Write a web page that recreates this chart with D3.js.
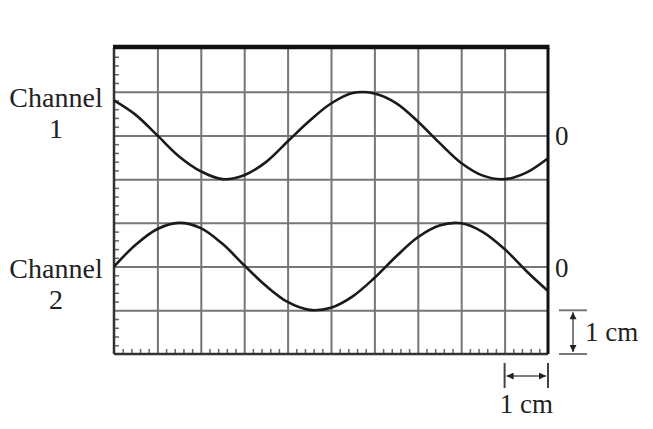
<!DOCTYPE html>
<html>
<head>
<meta charset="utf-8">
<script src="https://d3js.org/d3.v7.min.js"></script>
<style>
  body { margin: 0; background: #fff; }
  text { font-family: "Liberation Serif", "DejaVu Serif", serif; fill: #222; }
</style>
</head>
<body>
<div id="scope"></div>
<script>
// screen size in cm (divisions)
var xDivs = 10;
var yDivs = 7;

// sample positions along the screen (cm from left edge)
var sampleX = [0, 0.5, 1, 1.5, 2, 2.5, 3, 3.5, 4, 4.5, 5, 5.5, 6, 6.5, 7, 7.5, 8, 8.5, 9, 9.5, 10];

// trace heights in cm, relative to each channel's zero line
var channel1 = [0.80, 0.47, 0.00, -0.48, -0.82, -1.00, -0.91, -0.61, -0.14, 0.33, 0.73, 0.97, 0.96, 0.74, 0.32, -0.17, -0.63, -0.92, -1.00, -0.85, -0.52];
var channel2 = [0.00, 0.50, 0.86, 1.00, 0.88, 0.52, 0.03, -0.44, -0.81, -0.99, -0.94, -0.68, -0.26, 0.23, 0.67, 0.94, 0.99, 0.79, 0.40, -0.10, -0.56];

// zero line of each channel (cm from bottom)
var zeroLevels = [5, 2];
var channelNames = ["Channel", "Channel"];
var channelNums = ["1", "2"];
var scaleLabel = "1 cm";

var svgWidth = 653;
var svgHeight = 429;

// where the "Channel" word sits relative to its zero line (px)
var labelShift = [-28, 11];

var svg = d3.select("#scope")
  .append("svg")
  .attr("width", svgWidth)
  .attr("height", svgHeight);

// scales map cm on the screen to pixels
var xScale = d3.scaleLinear().domain([0, xDivs]).range([114, 548]);
var yScale = d3.scaleLinear().domain([0, yDivs]).range([354, 48]);

var plotW = xScale(xDivs) - xScale(0);
var plotH = yScale(0) - yScale(yDivs);

// grid lines
var gridX = d3.axisBottom(xScale).tickValues(d3.range(1, xDivs)).tickSize(-plotH).tickFormat("");
var gridY = d3.axisLeft(yScale).tickValues(d3.range(1, yDivs)).tickSize(-plotW).tickFormat("");

svg.append("g")
  .attr("class", "grid")
  .attr("transform", `translate(0, ${yScale(0)})`)
  .call(gridX);

svg.append("g")
  .attr("class", "grid")
  .attr("transform", `translate(${xScale(0)}, 0)`)
  .call(gridY);

svg.selectAll(".grid .domain").remove();
svg.selectAll(".grid line")
  .attr("stroke", "#767676")
  .attr("stroke-width", 2);

// small ticks every 0.2 cm along left and bottom edges
var minorX = d3.range(1, xDivs * 5).filter(d => d % 5 != 0).map(d => d / 5);
var minorY = d3.range(1, yDivs * 5).filter(d => d % 5 != 0).map(d => d / 5);

svg.append("g")
  .attr("class", "minor")
  .attr("transform", `translate(0, ${yScale(0)})`)
  .call(d3.axisBottom(xScale).tickValues(minorX).tickSize(-5).tickFormat(""));

svg.append("g")
  .attr("class", "minor")
  .attr("transform", `translate(${xScale(0)}, 0)`)
  .call(d3.axisLeft(yScale).tickValues(minorY).tickSize(-5).tickFormat(""));

svg.selectAll(".minor .domain").remove();
svg.selectAll(".minor line")
  .attr("stroke", "#666")
  .attr("stroke-width", 1.5);

// frame
svg.append("line")
  .attr("x1", xScale(0)).attr("x2", xScale(0))
  .attr("y1", yScale(yDivs)).attr("y2", yScale(0))
  .attr("stroke", "#333").attr("stroke-width", 2.5);
svg.append("line")
  .attr("x1", xScale(0)).attr("x2", xScale(xDivs))
  .attr("y1", yScale(0)).attr("y2", yScale(0))
  .attr("stroke", "#333").attr("stroke-width", 2.5);
svg.append("line")
  .attr("x1", xScale(xDivs)).attr("x2", xScale(xDivs))
  .attr("y1", yScale(yDivs)).attr("y2", yScale(0))
  .attr("stroke", "#111").attr("stroke-width", 3);
svg.append("line")
  .attr("x1", xScale(0) - 1).attr("x2", xScale(xDivs) + 1.5)
  .attr("y1", yScale(yDivs) - 1).attr("y2", yScale(yDivs) - 1)
  .attr("stroke", "#111").attr("stroke-width", 4.5);

// traces
var traces = [channel1, channel2];
traces.forEach(function(vals, i) {
  var line = d3.line()
    .x((d, j) => xScale(sampleX[j]))
    .y(d => yScale(zeroLevels[i] + d))
    .curve(d3.curveCatmullRom);

  svg.append("path")
    .datum(vals)
    .attr("d", line)
    .attr("fill", "none")
    .attr("stroke", "#1a1a1a")
    .attr("stroke-width", 2.6);

  // channel labels on the left
  svg.append("text")
    .attr("x", 56)
    .attr("y", yScale(zeroLevels[i]) + labelShift[i])
    .attr("text-anchor", "middle")
    .style("font-size", "28px")
    .text(channelNames[i]);

  svg.append("text")
    .attr("x", 56)
    .attr("y", yScale(zeroLevels[i]) + labelShift[i] + 31)
    .attr("text-anchor", "middle")
    .style("font-size", "28px")
    .text(channelNums[i]);

  // zero marker on the right
  svg.append("text")
    .attr("x", xScale(xDivs) + 7)
    .attr("y", yScale(zeroLevels[i]) + 10)
    .style("font-size", "27px")
    .text("0");
});

// arrow heads
var defs = svg.append("defs");
defs.append("marker")
  .attr("id", "arrow")
  .attr("viewBox", "0 0 10 10")
  .attr("refX", 10)
  .attr("refY", 5)
  .attr("markerWidth", 9)
  .attr("markerHeight", 7)
  .attr("markerUnits", "userSpaceOnUse")
  .attr("orient", "auto-start-reverse")
  .append("path")
  .attr("d", "M0,0L10,5L0,10Z")
  .attr("fill", "#222");

// vertical 1 cm scale
var vx = xScale(xDivs) + 25;
[0, 1].forEach(function(v) {
  svg.append("line")
    .attr("x1", xScale(xDivs) + 11).attr("x2", xScale(xDivs) + 39)
    .attr("y1", yScale(v)).attr("y2", yScale(v))
    .attr("stroke", "#777").attr("stroke-width", 2);
});
svg.append("line")
  .attr("x1", vx).attr("x2", vx)
  .attr("y1", yScale(1) + 2).attr("y2", yScale(0) - 2)
  .attr("stroke", "#555").attr("stroke-width", 1.5)
  .attr("marker-start", "url(#arrow)")
  .attr("marker-end", "url(#arrow)");
svg.append("text")
  .attr("x", xScale(xDivs) + 37)
  .attr("y", (yScale(1) + yScale(0)) / 2 + 9)
  .style("font-size", "27px")
  .text(scaleLabel);

// horizontal 1 cm scale
var hy = yScale(0) + 22;
[xDivs - 1, xDivs].forEach(function(v) {
  svg.append("line")
    .attr("x1", xScale(v)).attr("x2", xScale(v))
    .attr("y1", hy - 13).attr("y2", hy + 12)
    .attr("stroke", "#444").attr("stroke-width", 2);
});
svg.append("line")
  .attr("x1", xScale(xDivs - 1) + 2).attr("x2", xScale(xDivs) - 2)
  .attr("y1", hy).attr("y2", hy)
  .attr("stroke", "#555").attr("stroke-width", 1.5)
  .attr("marker-start", "url(#arrow)")
  .attr("marker-end", "url(#arrow)");
svg.append("text")
  .attr("x", (xScale(xDivs - 1) + xScale(xDivs)) / 2)
  .attr("y", hy + 37)
  .attr("text-anchor", "middle")
  .style("font-size", "27px")
  .text(scaleLabel);
</script>
</body>
</html>
